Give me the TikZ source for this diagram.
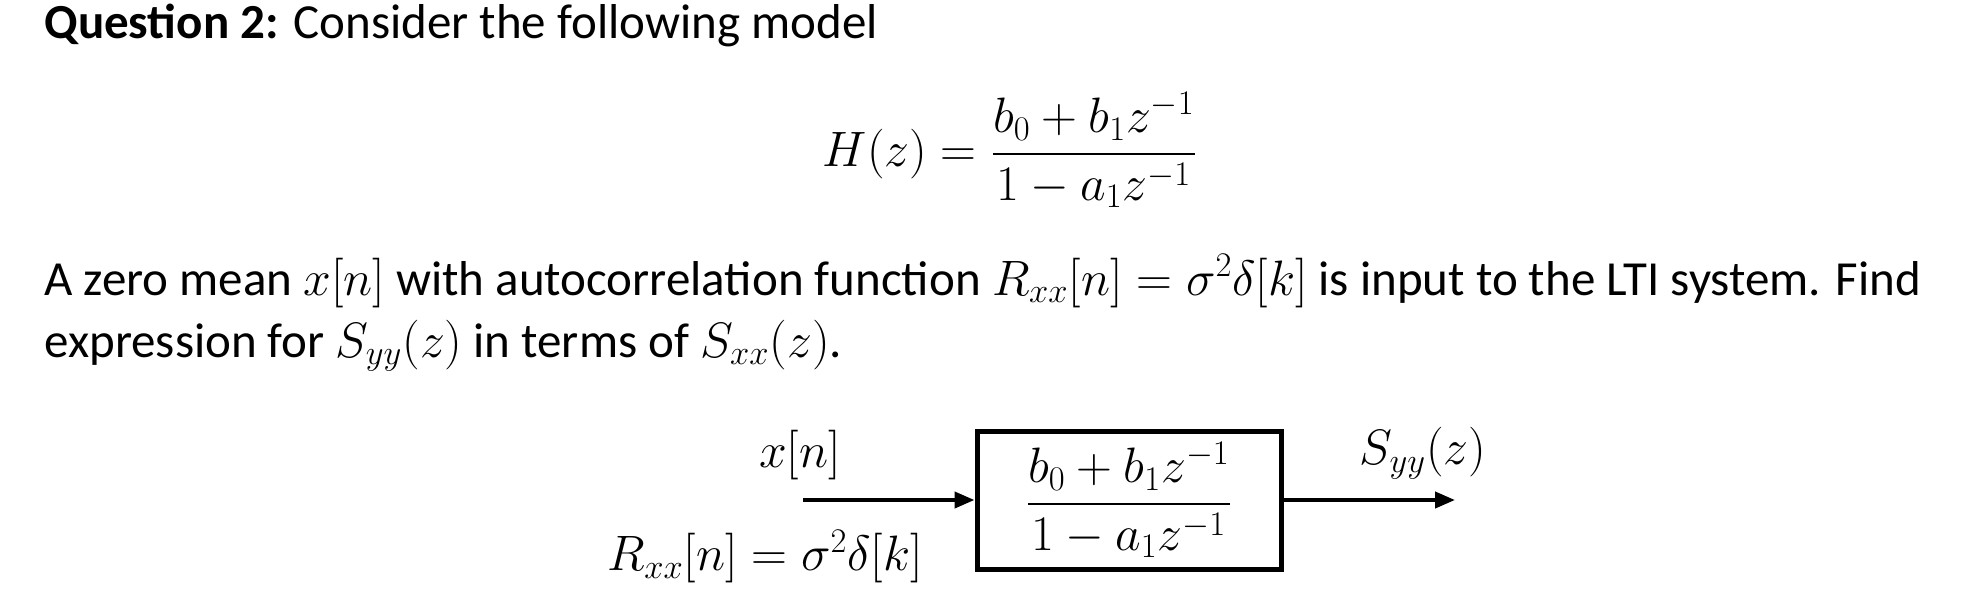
\documentclass[tikz,border=0pt]{standalone}
\usepackage{amsmath}
\usepackage{fontspec}
\setmainfont{Carlito}
\usetikzlibrary{arrows.meta}
\begin{document}
\begin{tikzpicture}[x=0.5pt,y=-0.5pt,
  txt/.style={font=\fontsize{24.5}{29}\selectfont, inner sep=0pt},
  mth/.style={font=\fontsize{26}{31}\selectfont, inner sep=0pt},
  sig/.style={line width=2pt,-{Triangle[length=10pt,width=8pt]}}]
\useasboundingbox (0,0) rectangle (1974,601);
\node[txt,anchor=base west] (title) at (44,38) {\textbf{Question 2:} Consider the following model};
\node[mth] (hz) at (1010,150) {$H(z)=\dfrac{b_0+b_1z^{-1}}{1-a_1z^{-1}}$};
\node[txt,anchor=base west] (l1) at (44,295) {A zero mean $x[n]$ with autocorrelation function $R_{xx}[n]=\sigma^2\delta[k]$ is input to the LTI system. Find};
\node[txt,anchor=base west] (l2) at (44,357) {expression for $S_{yy}(z)$ in terms of $S_{xx}(z)$.};
\node[draw,line width=2.5pt,minimum width=152pt,minimum height=69pt,mth] (box) at (1129,500) {$\dfrac{b_0+b_1z^{-1}}{1-a_1z^{-1}}$};
\coordinate (in) at (803,500);
\coordinate (out) at (1455,500);
\draw[sig] (in) -- (box.west);
\draw[sig] (box.east) -- (out);
\node[mth] (xn) at (800,455) {$x[n]$};
\node[mth] (syy) at (1423,453) {$S_{yy}(z)$};
\node[mth] (rxx) at (765,557) {$R_{xx}[n]=\sigma^2\delta[k]$};
\end{tikzpicture}
\end{document}
